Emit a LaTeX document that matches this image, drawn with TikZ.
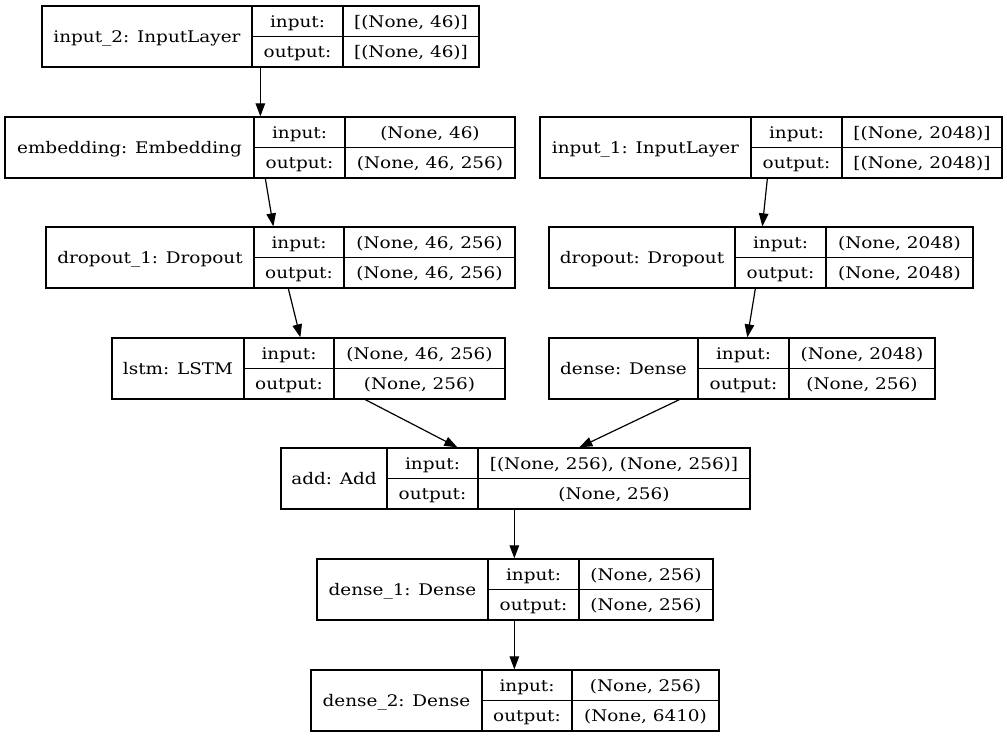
\documentclass[tikz,border=0pt]{standalone}
\usepackage{fontspec}
\setmainfont[FakeStretch=1.15]{DejaVu Serif}
\usetikzlibrary{arrows.meta,fit,calc}
\tikzset{
  lbox/.style={draw=black, line width=1.3pt, inner sep=0pt, fill=white},
  cellline/.style={draw=black, line width=1.3pt},
  txt/.style={anchor=base, inner sep=0pt, font=\fontsize{16pt}{19pt}\selectfont},
  arr/.style={draw=black, line width=1.2pt, -{Triangle[length=13pt,width=9.5pt]}}
}
% name, x1, d1, d2, x2, top, label, in, out
\newcommand\layerbox[9]{%
  \node[lbox, fit={(#2,-#6) (#5,{-#6-61})}] (#1) {};
  \draw[cellline] (#3,-#6) -- (#3,{-#6-61});
  \draw[cellline] (#4,-#6) -- (#4,{-#6-61});
  \draw[cellline] (#3,{-#6-30.5}) -- (#5,{-#6-30.5});
  \node[txt] (#1-lab) at ({(#2+#3)/2},{-#6-30.5-5.8}) {#7};
  \node[txt] (#1-ik) at ({(#3+#4)/2},{-#6-15.25-5.8}) {input:};
  \node[txt] (#1-ok) at ({(#3+#4)/2},{-#6-45.75-5.8}) {output:};
  \node[txt] (#1-iv) at ({(#4+#5)/2},{-#6-15.25-5.8}) {#8};
  \node[txt] (#1-ov) at ({(#4+#5)/2},{-#6-45.75-5.8}) {#9};
}
\begin{document}
\begin{tikzpicture}[x=1pt,y=1pt]
\useasboundingbox (0,0) rectangle (1007,-737);
\fill[white] (0,0) rectangle (1007,-737);
\layerbox{in2}{42}{252}{343}{479}{6}{input\_2: InputLayer}{[(None, 46)]}{[(None, 46)]}
\layerbox{emb}{5}{254}{345}{515}{117}{embedding: Embedding}{(None, 46)}{(None, 46, 256)}
\layerbox{in1}{540}{751}{842}{1002}{117}{input\_1: InputLayer}{[(None, 2048)]}{[(None, 2048)]}
\layerbox{do1}{46}{254}{344}{515}{227}{dropout\_1: Dropout}{(None, 46, 256)}{(None, 46, 256)}
\layerbox{do}{549}{735}{826}{973}{227}{dropout: Dropout}{(None, 2048)}{(None, 2048)}
\layerbox{lstm}{112}{244}{334}{505}{338}{lstm: LSTM}{(None, 46, 256)}{(None, 256)}
\layerbox{dense}{549}{698}{789}{935}{338}{dense: Dense}{(None, 2048)}{(None, 256)}
\layerbox{add}{281}{387}{478}{750}{448}{add: Add}{[(None, 256), (None, 256)]}{(None, 256)}
\layerbox{dA}{317}{488}{579}{713}{559}{dense\_1: Dense}{(None, 256)}{(None, 256)}
\layerbox{dB}{311}{482}{572}{719}{670}{dense\_2: Dense}{(None, 256)}{(None, 6410)}
% connectors
\draw[arr] ([xshift=219pt]in2.south west) -- ([xshift=256pt]emb.north west);
\draw[arr] ([xshift=261pt]emb.south west) -- ([xshift=228pt]do1.north west);
\draw[arr] ([xshift=243pt]do1.south west) -- ([xshift=189pt]lstm.north west);
\draw[arr] ([xshift=228pt]in1.south west) -- ([xshift=214pt]do.north west);
\draw[arr] ([xshift=207pt]do.south west) -- ([xshift=199pt]dense.north west);
\draw[arr] ([xshift=254pt]lstm.south west) -- ([xshift=177pt]add.north west);
\draw[arr] ([xshift=131pt]dense.south west) -- ([xshift=299pt]add.north west);
\draw[arr] ([xshift=234pt]add.south west) -- ([xshift=198pt]dA.north west);
\draw[arr] ([xshift=198pt]dA.south west) -- ([xshift=204pt]dB.north west);
\end{tikzpicture}
\end{document}
